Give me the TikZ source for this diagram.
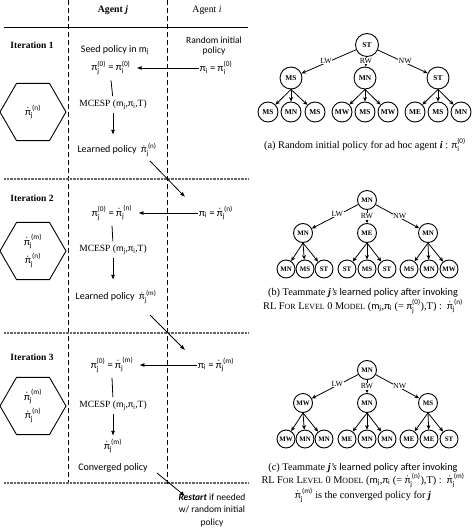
\documentclass[tikz,border=0pt]{standalone}
\usepackage{amsmath}
\usepackage{fontspec}
\setmainfont{Liberation Serif}
\newfontfamily\carl{Carlito}
\usetikzlibrary{arrows.meta,shapes.geometric}
\newcommand\PI{\text{\carl π}}
\newcommand\DPI{\dot{\text{\carl π}}}
\newcommand\pj[1]{\ensuremath{\PI_{\text{\carl j}}^{\text{\carl (#1)}}}}
\newcommand\pdj[1]{\ensuremath{\DPI_{\text{\carl j}}^{\,\text{\carl (#1)}}}}
\newcommand\pii[1]{\ensuremath{\PI_{\text{\carl i}}^{\text{\carl (#1)}}}}
\newcommand\pis{\ensuremath{\PI_{\text{\carl i}}}}
\newcommand\mj{\ensuremath{\text{\carl m}_{\text{\carl j}}}}
\newcommand\fsc[1]{{\fontsize{7.9}{8}\selectfont #1}}
\tikzset{
  every node/.style={font=\fontsize{9.5}{11}\selectfont, inner sep=1pt},
  arr/.style={-{Latex[length=5pt,width=4pt]}, line width=0.8pt},
  plain/.style={line width=0.8pt},
  sep/.style={dash pattern=on 5pt off 3pt, line width=0.8pt},
  dots/.style={dash pattern=on 0.7pt off 0.7pt, line width=1.1pt, black!60},
  hexa/.style={regular polygon, regular polygon sides=6, draw, line width=0.9pt, minimum size=66pt, inner sep=0pt, align=center, font=\carl\fontsize{10.5}{12}\selectfont},
  iter/.style={font=\bfseries\fontsize{9.5}{11}\selectfont},
  sans/.style={font=\carl\fontsize{10}{11}\selectfont, align=center},
  form/.style={font=\carl\fontsize{10.5}{12}\selectfont},
  ta/.style={circle, draw, line width=0.9pt, inner sep=0pt, font=\bfseries\fontsize{7.4}{8}\selectfont},
  tr/.style={ta, minimum size=23pt},
  tm/.style={ta, minimum size=22pt},
  tl/.style={ta, minimum size=20pt},
  sa/.style={ta, font=\bfseries\fontsize{6.9}{7}\selectfont},
  sr/.style={sa, minimum size=19pt},
  sm/.style={sa, minimum size=19pt},
  sl/.style={sa, minimum size=18pt},
  tarr/.style={-{Stealth[length=4.5pt,width=4pt]}, line width=0.8pt},
  elab/.style={fill=white, inner sep=0.5pt, font=\fontsize{7.8}{8}\selectfont},
  capt/.style={align=center, font=\fontsize{10.3}{11.5}\selectfont},
}
\begin{document}
\begin{tikzpicture}[x=1pt,y=-1pt]
\useasboundingbox (0,0) rectangle (474,529);
% frame lines
\draw[sep] (68,0) -- (68,484);
\draw[sep] (167,0) -- (167,484);
\draw[line width=0.9pt] (4,27) -- (248,27);
\draw[dots] (4,179) -- (248,179);
\draw[dots] (4,333) -- (248,333);
\draw[dots] (4,483) -- (248,483);
% headers
\node[font=\bfseries\fontsize{9.8}{11}\selectfont] (hj) at (113,10) {Agent \textit{j}};
\node[font=\fontsize{9.8}{11}\selectfont] (hi) at (207,10) {Agent \textit{i}};
% iteration 1
\node[iter] (it1) at (32,45) {Iteration 1};
\node[sans] (seed) at (115,50) {Seed policy in \mj};
\node[form] (eq1) at (111,68) {\pj{0} = \pii{0}};
\node[sans, font=\carl\fontsize{9.5}{10.5}\selectfont] (ri) at (214,46) {Random initial\\policy};
\node[form] (pi1) at (216,68) {\pis{} = \pii{0}};
\draw[arr] (pi1.west) -- ([xshift=5pt]eq1.east);
\node (mc1) at (113,105) {MCESP (\mj,\pis,T)};
\draw[plain, shorten >=3pt] ([yshift=-4pt]eq1.south) -- (mc1.north);
\draw[arr] ([yshift=-2pt]mc1.south) -- ([yshift=-24pt]mc1.south);
\node[sans] (lp1) at (117,150) {Learned policy \ \pdj{n}};
\node[hexa] (h1) at (33,112) {\pdj{n}};
\coordinate (d1s) at (150,161);
\coordinate (d1e) at (185,197);
\draw[arr] (d1s) -- (d1e);
% iteration 2
\node[iter] (it2) at (32,198) {Iteration 2};
\node[form] (eq2) at (112,213) {\pj{0} = \pdj{n}};
\node[form] (pi2) at (216,213) {\pis{} = \pdj{n}};
\draw[arr] (pi2.west) -- ([xshift=5pt]eq2.east);
\node (mc2) at (113,250) {MCESP (\mj,\pis,T)};
\draw[plain, shorten >=3pt] ([yshift=-4pt]eq2.south) -- (mc2.north);
\draw[arr] ([yshift=-2pt]mc2.south) -- ([yshift=-24pt]mc2.south);
\node[sans] (lp2) at (116,297) {Learned policy \ \pdj{m}};
\node[hexa] (h2) at (33,251) {\pdj{m}\\[3pt]\pdj{n}};
\coordinate (d2s) at (150,315);
\coordinate (d2e) at (185,350);
\draw[arr] (d2s) -- (d2e);
% iteration 3
\node[iter] (it3) at (32,357) {Iteration 3};
\node[form] (eq3) at (112,365) {\pj{0} = \pdj{m}};
\node[form] (pi3) at (216,365) {\pis{} = \pdj{m}};
\draw[arr] (pi3.west) -- ([xshift=5pt]eq3.east);
\node (mc3) at (113,406) {MCESP (\mj,\pis,T)};
\draw[plain, shorten >=3pt] ([yshift=-4pt]eq3.south) -- (mc3.north);
\draw[arr] ([yshift=-2pt]mc3.south) -- ([yshift=-24pt]mc3.south);
\node[form] (pd3) at (113,446) {\pdj{m}};
\node[sans] (cp3) at (113,468) {Converged policy};
\node[hexa] (h3) at (33,406) {\pdj{m}\\[3pt]\pdj{n}};
\coordinate (d3s) at (157,473);
\coordinate (d3e) at (185,496);
\draw[arr] (d3s) -- (d3e);
\node[sans, font=\carl\fontsize{9.5}{12.5}\selectfont] (rs) at (212,510) {\textbf{\textit{Restart}} if needed\\w/ random initial\\policy};
% tree a
\node[tr] (a0) at (367,45) {ST};
\node[tm] (a1) at (291,78) {MS};
\node[tm] (a2) at (365,78) {MN};
\node[tm] (a3) at (438,78) {ST};
\node[tl] (a11) at (268,112) {MS};
\node[tl] (a12) at (291,112) {MN};
\node[tl] (a13) at (315,112) {MS};
\node[tl] (a21) at (342,112) {MW};
\node[tl] (a22) at (365,112) {MS};
\node[tl] (a23) at (388,112) {MW};
\node[tl] (a31) at (415,112) {ME};
\node[tl] (a32) at (438,112) {MS};
\node[tl] (a33) at (461,112) {MN};
\draw[tarr] (a0) -- node[elab, pos=0.55, yshift=2pt] {LW} (a1);
\draw[tarr] (a0) -- node[elab, pos=0.45] {RW} (a2);
\draw[tarr] (a0) -- node[elab, pos=0.55, yshift=2pt] {NW} (a3);
\foreach \p in {1,2,3}{\foreach \c in {1,2,3}{\draw[tarr] (a\p.south) -- (a\p\c);}}
\node[capt] (capa) at (365,145) {(a) Random initial policy for ad hoc agent \textbf{\textit{i}} : \pii{0}};
% tree b
\node[sr] (b0) at (367,200) {MN};
\node[sm] (b1) at (303,233) {MN};
\node[sm] (b2) at (367,233) {ME};
\node[sm] (b3) at (428,233) {MN};
\node[sl] (b11) at (286,269) {MN};
\node[sl] (b12) at (305,269) {MS};
\node[sl] (b13) at (324,269) {ST};
\node[sl] (b21) at (347,269) {ST};
\node[sl] (b22) at (367,269) {MS};
\node[sl] (b23) at (387,269) {ST};
\node[sl] (b31) at (409,269) {MS};
\node[sl] (b32) at (429,269) {MN};
\node[sl] (b33) at (449,269) {MW};
\draw[tarr] (b0) -- node[elab, pos=0.45, yshift=1.5pt] {LW} (b1);
\draw[tarr] (b0) -- node[elab, pos=0.5] {RW} (b2);
\draw[tarr] (b0) -- node[elab, pos=0.55, yshift=1.5pt] {NW} (b3);
\foreach \p in {1,2,3}{\foreach \c in {1,2,3}{\draw[tarr] (b\p.south) -- (b\p\c);}}
\node[capt] (capb) at (363,301) {(b) Teammate \textbf{\textit{j}}\textit{'s} {\carl learned policy after invoking}\\RL F\fsc{OR} L\fsc{EVEL} 0 M\fsc{ODEL} (\mj,\pis{} (= \pj{0}),T) : \ \pdj{n}};
% tree c
\node[sr] (c0) at (367,370) {MN};
\node[sm] (c1) at (303,403) {MW};
\node[sm] (c2) at (367,403) {MN};
\node[sm] (c3) at (428,403) {MS};
\node[sl] (c11) at (286,439) {MW};
\node[sl] (c12) at (305,439) {MN};
\node[sl] (c13) at (324,439) {MN};
\node[sl] (c21) at (347,439) {ME};
\node[sl] (c22) at (367,439) {MN};
\node[sl] (c23) at (387,439) {MN};
\node[sl] (c31) at (409,439) {ME};
\node[sl] (c32) at (429,439) {ME};
\node[sl] (c33) at (449,439) {ST};
\draw[tarr] (c0) -- node[elab, pos=0.45, yshift=1.5pt] {LW} (c1);
\draw[tarr] (c0) -- node[elab, pos=0.5] {RW} (c2);
\draw[tarr] (c0) -- node[elab, pos=0.55, yshift=1.5pt] {NW} (c3);
\foreach \p in {1,2,3}{\foreach \c in {1,2,3}{\draw[tarr] (c\p.south) -- (c\p\c);}}
\node[capt, font=\fontsize{10.3}{12.5}\selectfont] (capc) at (363,483) {(c) Teammate \textbf{\textit{j}}\textit{'s} {\carl learned policy after invoking}\\RL F\fsc{OR} L\fsc{EVEL} 0 M\fsc{ODEL} (\mj,\pis{} (= \pdj{n}),T) : \ \pdj{m}\\\pdj{m} is the converged policy for \textbf{\textit{j}}};
\end{tikzpicture}
\end{document}
